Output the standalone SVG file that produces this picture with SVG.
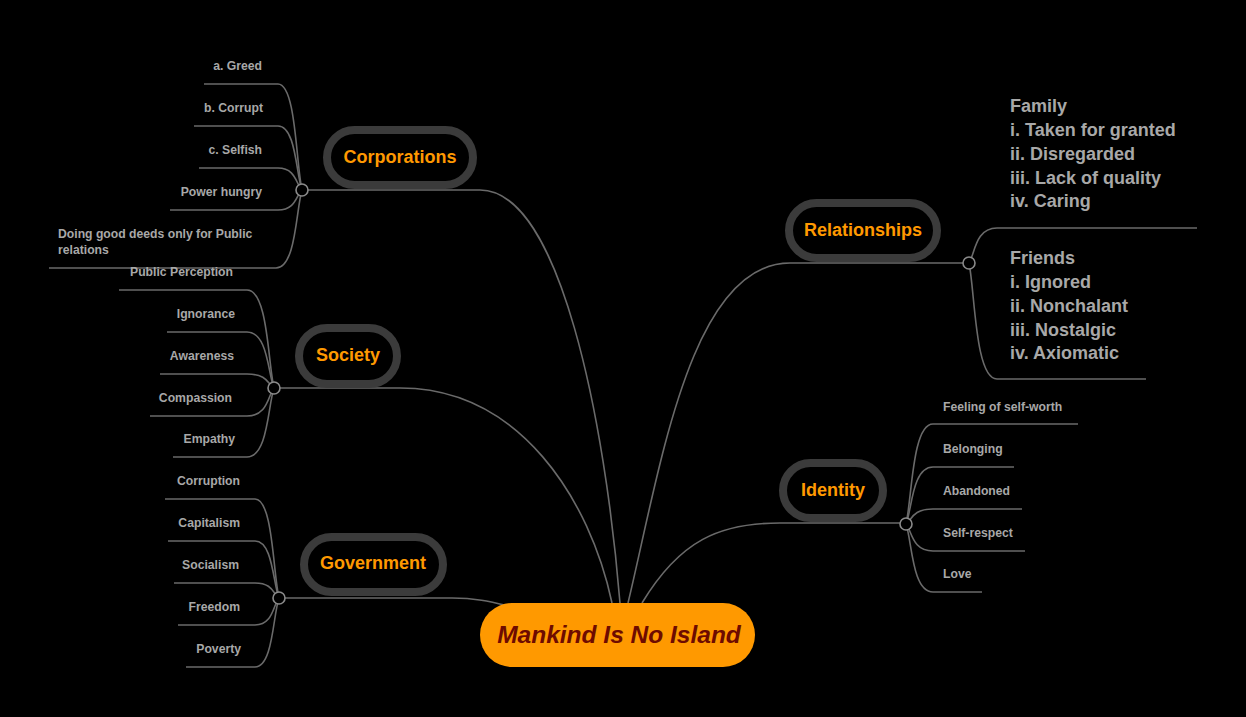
<svg xmlns="http://www.w3.org/2000/svg" width="1246" height="717" viewBox="0 0 1246 717">
<style>
.bg{fill:#000}
.ln{fill:none;stroke:#6a6a6a;stroke-width:1.6}
.hub{fill:#000;stroke:#8a8a8a;stroke-width:1.6}
.pill{fill:#000;stroke:#3b3b3b;stroke-width:8}
.pt{font-family:"Liberation Sans",Arial,sans-serif;font-weight:bold;font-size:18px;fill:#ff9900;text-anchor:middle}
.t{font-family:"Liberation Sans",Arial,sans-serif;font-weight:bold;font-size:12.2px;fill:#a8a8a8}
.e{text-anchor:end}
.big{font-family:"Liberation Sans",Arial,sans-serif;font-weight:bold;font-size:18px;fill:#a8a8a8}
</style>
<rect class="bg" x="0" y="0" width="1246" height="717"/>
<g id="connectors">
  <!-- main branches -->
  <path class="ln" d="M308 190 H480 C560 190 605 420 620 603"/>
  <path class="ln" d="M280 388 H400 C520 388 590 500 612 603"/>
  <path class="ln" d="M285 598 H452 C480 598 495 603 522 609"/>
  <path class="ln" d="M628 603 C660 470 690 263 790 263 H963"/>
  <path class="ln" d="M642 603 C680 540 720 523 780 523 H900"/>
  <!-- Corporations children -->
  <path class="ln" d="M204 84 H278 C296 84 296 163.5 302 190"/>
  <path class="ln" d="M194 126 H278 C296 126 296 174 302 190"/>
  <path class="ln" d="M199 168 H278 C296 168 296 184.5 302 190"/>
  <path class="ln" d="M170 210 H278 C296 210 296 195 302 190"/>
  <path class="ln" d="M49 268 H276 C296 268 296 209.5 302 190"/>
  <!-- Society children -->
  <path class="ln" d="M119 290 H247 C268 290 268 363.5 274 388"/>
  <path class="ln" d="M167 332 H247 C268 332 268 374 274 388"/>
  <path class="ln" d="M160 374 H247 C268 374 268 384.5 274 388"/>
  <path class="ln" d="M150 416 H247 C268 416 268 395 274 388"/>
  <path class="ln" d="M173 457 H247 C268 457 268 405 274 388"/>
  <!-- Government children -->
  <path class="ln" d="M165 499 H255 C273 499 273 573 279 598"/>
  <path class="ln" d="M168 541 H255 C273 541 273 584 279 598"/>
  <path class="ln" d="M174 583 H255 C273 583 273 594 279 598"/>
  <path class="ln" d="M178 625 H255 C273 625 273 605 279 598"/>
  <path class="ln" d="M186 667 H255 C273 667 273 615 279 598"/>
  <!-- Relationships children -->
  <path class="ln" d="M969 263 C975 254 975 228 997 228 H1197"/>
  <path class="ln" d="M969 263 C975 292 975 379 997 379 H1146"/>
  <!-- Identity children -->
  <path class="ln" d="M906 524 C912 499 912 424 933 424 H1078"/>
  <path class="ln" d="M906 524 C912 510 912 467 933 467 H1014"/>
  <path class="ln" d="M906 524 C912 520 912 509 933 509 H1022"/>
  <path class="ln" d="M906 524 C912 531 912 551 933 551 H1025"/>
  <path class="ln" d="M906 524 C912 541 912 592 933 592 H982"/>
  <!-- hubs -->
  <circle class="hub" cx="302" cy="190" r="6"/>
  <circle class="hub" cx="274" cy="388" r="6"/>
  <circle class="hub" cx="279" cy="598" r="6"/>
  <circle class="hub" cx="969" cy="263" r="6"/>
  <circle class="hub" cx="906" cy="524" r="6"/>
</g>
<g id="central">
  <rect x="480" y="603" width="275" height="64" rx="32" fill="#ff9900"/>
  <text x="619" y="643" text-anchor="middle" font-family="'Liberation Sans',Arial,sans-serif" font-weight="bold" font-style="italic" font-size="24.5" fill="#6e0b00">Mankind Is No Island</text>
</g>
<g id="corporations">
  <rect class="pill" x="327" y="130" width="146" height="55" rx="27.5"/>
  <text class="pt" x="400" y="163">Corporations</text>
</g>
<g id="corporations-children">
  <text class="t e" x="262" y="70">a. Greed</text>
  <text class="t e" x="263" y="112">b. Corrupt</text>
  <text class="t e" x="262" y="154">c. Selfish</text>
  <text class="t e" x="262" y="196">Power hungry</text>
  <text class="t" x="58" y="238">Doing good deeds only for Public</text>
  <text class="t" x="58" y="254">relations</text>
</g>
<g id="society">
  <rect class="pill" x="299" y="328" width="98" height="56" rx="28"/>
  <text class="pt" x="348" y="361">Society</text>
</g>
<g id="society-children">
  <text class="t e" x="233" y="276">Public Perception</text>
  <text class="t e" x="235" y="318">Ignorance</text>
  <text class="t e" x="234" y="360">Awareness</text>
  <text class="t e" x="232" y="402">Compassion</text>
  <text class="t e" x="235" y="443">Empathy</text>
</g>
<g id="government">
  <rect class="pill" x="304" y="537" width="139" height="55" rx="27.5"/>
  <text class="pt" x="373" y="569">Government</text>
</g>
<g id="government-children">
  <text class="t e" x="240" y="485">Corruption</text>
  <text class="t e" x="240" y="527">Capitalism</text>
  <text class="t e" x="239" y="569">Socialism</text>
  <text class="t e" x="240" y="611">Freedom</text>
  <text class="t e" x="241" y="653">Poverty</text>
</g>
<g id="relationships">
  <rect class="pill" x="789" y="203" width="148" height="55" rx="27.5"/>
  <text class="pt" x="863" y="236">Relationships</text>
</g>
<g id="relationships-family">
  <text class="big" x="1010" y="112">Family</text>
  <text class="big" x="1010" y="136">i. Taken for granted</text>
  <text class="big" x="1010" y="160">ii. Disregarded</text>
  <text class="big" x="1010" y="184">iii. Lack of quality</text>
  <text class="big" x="1010" y="207">iv. Caring</text>
</g>
<g id="relationships-friends">
  <text class="big" x="1010" y="264">Friends</text>
  <text class="big" x="1010" y="288">i. Ignored</text>
  <text class="big" x="1010" y="312">ii. Nonchalant</text>
  <text class="big" x="1010" y="336">iii. Nostalgic</text>
  <text class="big" x="1010" y="359">iv. Axiomatic</text>
</g>
<g id="identity">
  <rect class="pill" x="783" y="463" width="100" height="55" rx="27.5"/>
  <text class="pt" x="833" y="496">Identity</text>
</g>
<g id="identity-children">
  <text class="t" x="943" y="411">Feeling of self-worth</text>
  <text class="t" x="943" y="453">Belonging</text>
  <text class="t" x="943" y="495">Abandoned</text>
  <text class="t" x="943" y="537">Self-respect</text>
  <text class="t" x="943" y="578">Love</text>
</g>
</svg>
